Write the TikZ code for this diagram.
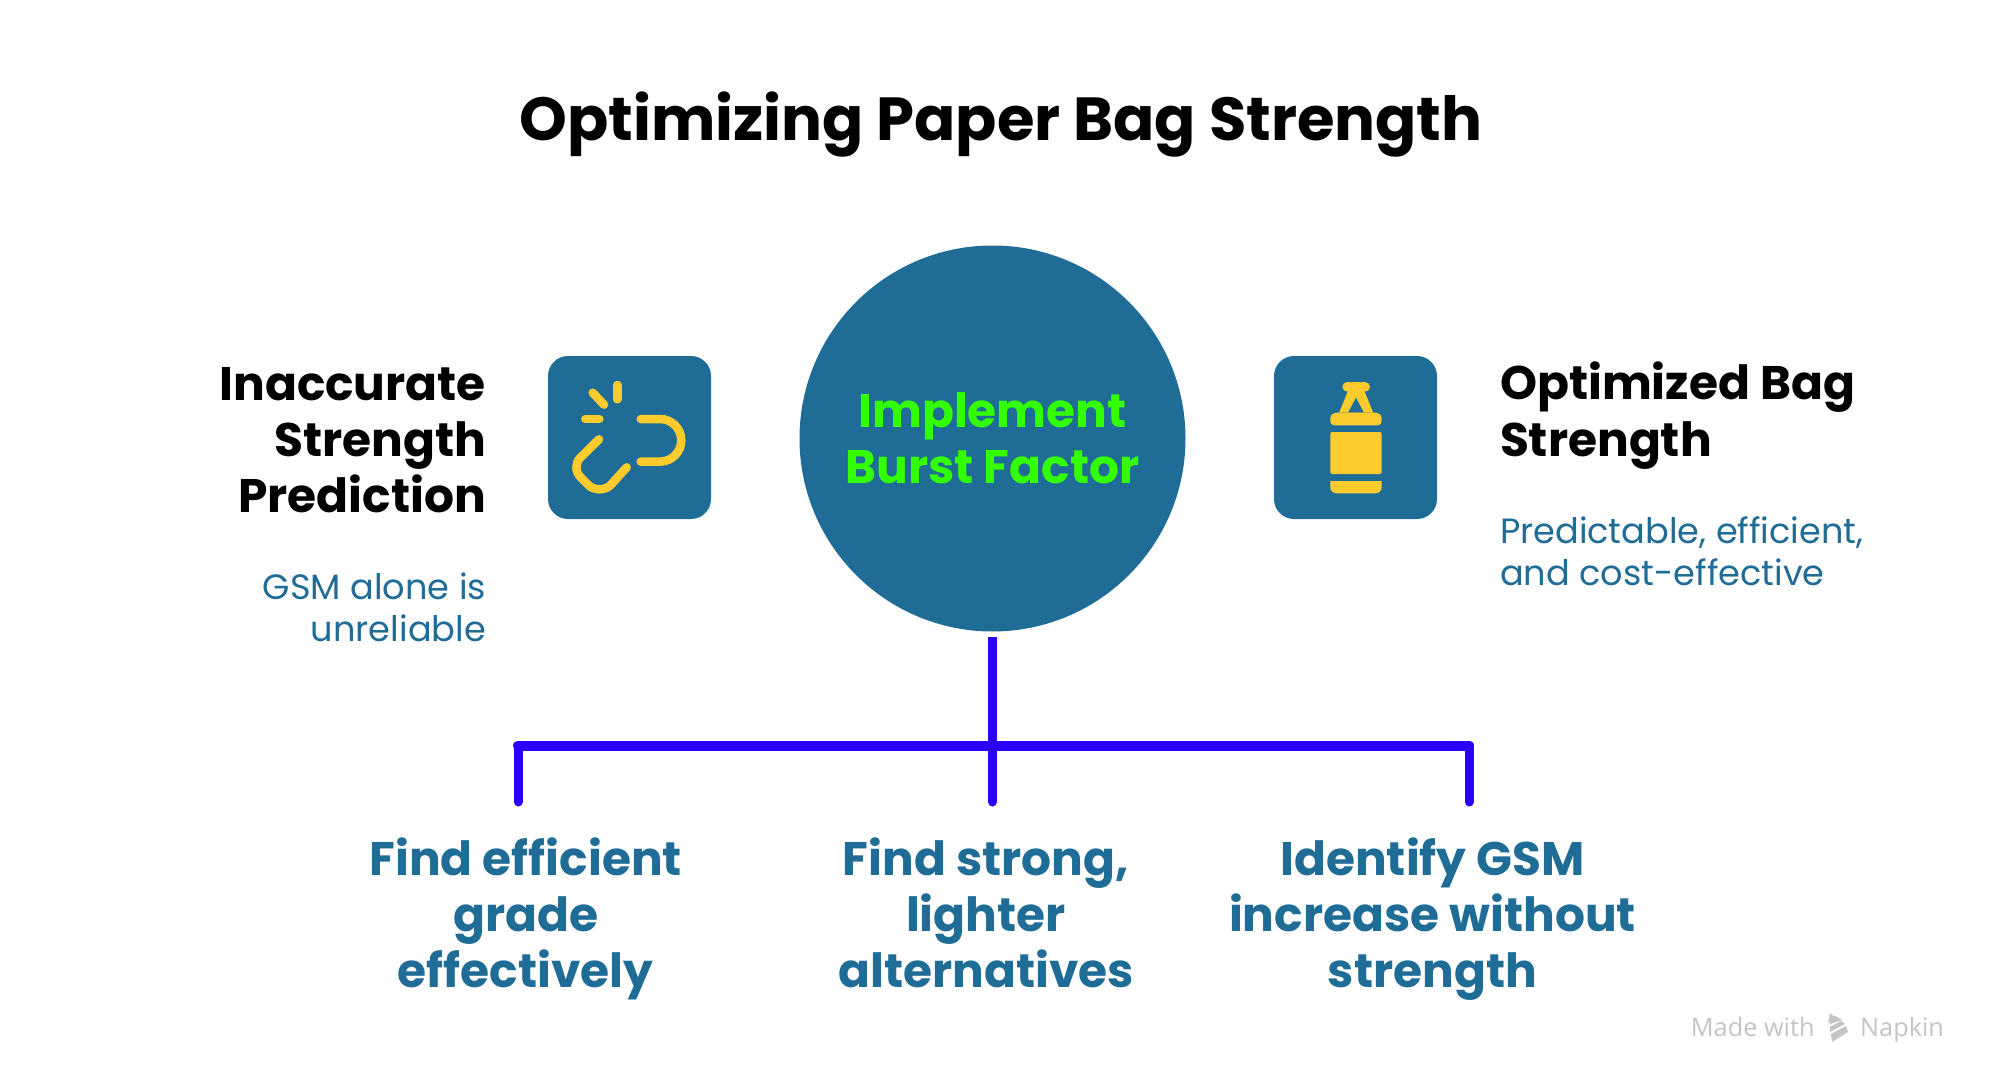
\documentclass[tikz,border=0pt]{standalone}
\usepackage{fontspec}
\setmainfont{Poppins}
\newfontfamily\markfont{Open Sans}
\definecolor{bagblue}{HTML}{1F6C97}
\definecolor{bagyellow}{HTML}{FCCB2E}
\definecolor{baggreen}{HTML}{33FF00}
\definecolor{barblue}{HTML}{2A00FF}
\definecolor{markgray}{HTML}{C4C4C4}
\begin{document}
\begin{tikzpicture}
\useasboundingbox (0,0) rectangle (19.99,-10.91);
\tikzstyle{every node}+=[inner sep=0pt, outer sep=0pt]
\tikzstyle{heading}=[font=\fontsize{13.4}{16}\selectfont\bfseries]
\tikzstyle{note}=[font=\fontsize{10}{11.8}\selectfont, text=bagblue]
\tikzstyle{leaf}=[heading, text=bagblue, align=center]
\tikzstyle{markword}=[anchor=base east, font=\fontsize{7.2}{9}\selectfont\markfont, text=markgray]
\tikzstyle{iconbox}=[fill=bagblue, minimum size=1.63cm, rounded corners=0.2cm]
\tikzstyle{stroke}=[draw=bagyellow, line width=0.085cm, line cap=round]
\tikzstyle{bar}=[draw=barblue, line width=0.1cm]
\tikzstyle{leg}=[draw=barblue, line width=0.09cm, line cap=round]
\draw (10.01,-1.25) node (title) [font=\fontsize{17.3}{20}\selectfont\bfseries] {Optimizing Paper Bag Strength};
% centre
\draw (9.925,-4.385) node (burst) [circle, fill=bagblue, minimum size=3.86cm] {};
\draw (9.925,-4.385) node (burstlabel) [heading, text=baggreen, align=center] {Implement\\Burst Factor};
% left
\draw (6.295,-4.375) node (leftbox) [iconbox] {};
\draw (4.86,-4.40) node (lefthead) [heading, anchor=east, align=right] {Inaccurate\\Strength\\Prediction};
\draw (4.86,-6.075) node (leftnote) [note, anchor=east, align=right] {GSM alone is\\unreliable};
\draw [stroke] (5.927,-3.927) -- (6.04,-4.047);
\draw [stroke] (6.173,-3.85) -- (6.173,-3.993);
\draw [stroke] (5.853,-4.19) -- (5.993,-4.19);
\draw [stroke] (6.407,-4.19) -- (6.6,-4.19) arc (90:-90:0.213) -- (6.407,-4.617);
\draw [stroke] (5.99,-4.393) -- (5.807,-4.573) .. controls (5.75,-4.627) and (5.75,-4.717) .. (5.807,-4.773) -- (5.883,-4.85) .. controls (5.94,-4.907) and (6.05,-4.907) .. (6.107,-4.85) -- (6.267,-4.673);
% right
\draw (13.555,-4.375) node (rightbox) [iconbox] {};
\draw (15.0,-4.155) node (righthead) [heading, anchor=west, align=left] {Optimized Bag\\Strength};
\draw (15.0,-5.51) node (rightnote) [note, anchor=west, align=left] {Predictable, efficient,\\and cost-effective};
\fill [bagyellow, rounded corners=0.05cm] (13.423,-3.82) rectangle (13.7,-3.917);
\fill [bagyellow] (13.483,-3.9) -- (13.64,-3.9) -- (13.73,-4.123) -- (13.393,-4.123) -- cycle;
\fill [bagyellow, rounded corners=0.04cm] (13.303,-4.253) -- (13.303,-4.14) -- (13.38,-4.123) -- (13.74,-4.123) -- (13.817,-4.14) -- (13.817,-4.253) -- cycle;
\fill [bagblue] (13.56,-3.977) -- (13.483,-4.123) -- (13.637,-4.123) -- cycle;
\fill [bagyellow, rounded corners=0.02cm] (13.303,-4.32) rectangle (13.817,-4.74);
\fill [bagyellow] (13.303,-4.81) -- (13.817,-4.81) -- (13.817,-4.873) arc (0:-90:0.06) -- (13.363,-4.933) arc (270:180:0.06) -- cycle;
% tree
\coordinate (hub) at (9.925,-7.455);
\coordinate (hubleft) at (5.18,-7.455);
\coordinate (hubright) at (14.69,-7.455);
\coordinate (footleft) at (5.18,-8.02);
\coordinate (footmid) at (9.925,-8.02);
\coordinate (footright) at (14.69,-8.02);
\draw [leg, line cap=butt, shorten <=0.05cm] (burst.south) -- (hub);
\draw [leg] (hub) -- (footmid);
\draw [leg] (hubleft) -- (footleft);
\draw [leg] (hubright) -- (footright);
\draw [bar, line cap=round] (hubleft) -- (hubright);
\draw (5.257,-9.19) node (leafa) [leaf] {Find efficient\\grade\\effectively};
\draw (9.86,-9.126) node (leafb) [leaf] {Find strong,\\lighter\\alternatives};
\draw (14.325,-9.19) node (leafc) [leaf] {Identify GSM\\increase without\\strength};
% watermark
\draw (18.146,-10.36) node (markmade) [markword] {Made with};
\draw (19.44,-10.36) node (marknapkin) [markword] {Napkin};
\fill [markgray] (18.3,-10.13) -- (18.28,-10.23) -- (18.36,-10.18) -- cycle;
\fill [markgray] (18.3,-10.24) -- (18.42,-10.2) -- (18.35,-10.16) -- (18.3,-10.2) -- cycle;
\fill [markgray] (18.3,-10.32) -- (18.45,-10.24) -- (18.41,-10.21) -- (18.3,-10.27) -- cycle;
\fill [markgray] (18.32,-10.42) -- (18.48,-10.32) -- (18.46,-10.26) -- (18.31,-10.34) -- cycle;
\end{tikzpicture}
\end{document}
